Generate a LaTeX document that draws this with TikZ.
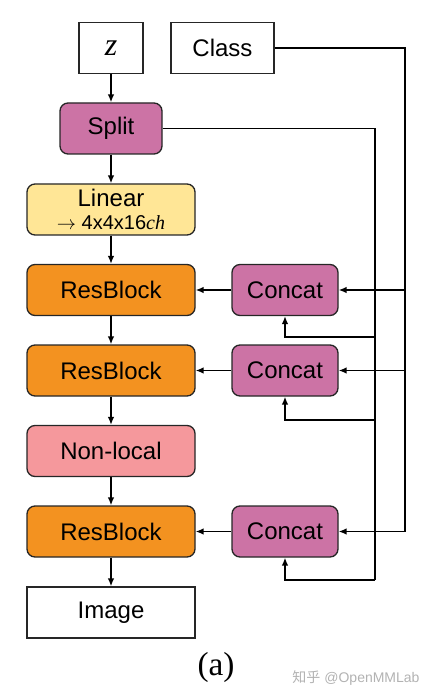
\documentclass[tikz,border=0pt]{standalone}
\usepackage{fontspec}
\setmainfont{Liberation Sans}
\newfontfamily\timesfont{Liberation Serif}
\newfontfamily\cjkfont{Noto Sans CJK SC}
\usetikzlibrary{arrows.meta}
\definecolor{splitpink}{RGB}{204,115,165}
\definecolor{linearyellow}{RGB}{255,230,150}
\definecolor{resorange}{RGB}{243,146,32}
\definecolor{nonlocalpink}{RGB}{245,152,156}
\tikzset{
	block/.style={draw=black!85, line width=1pt, inner sep=0pt, minimum height=38.25pt, font=\fontsize{18}{20}\selectfont},
	rblock/.style={block, rounded corners=6pt},
	wide/.style={minimum width=126pt},
	flow/.style={line width=1.1pt, -{Latex[length=6pt,width=5pt]}},
	bus/.style={line width=1.1pt}
}
\begin{document}
\begin{tikzpicture}[x=0.75pt, y=-0.75pt]
				\useasboundingbox (0,0) rectangle (428,698);
				% inputs
				\node[block, minimum width=48pt, font=\fontsize{24}{24}\selectfont\timesfont\itshape] (z) at (111,48) {z};
				\node[block, minimum width=77.25pt] (class) at (222.5,48) {Class};
				% generator column
				\node[rblock, fill=splitpink, minimum width=76.5pt] (split) at (111,128.5) {Split};
				\node[rblock, wide, fill=linearyellow, align=center] (linear) at (111,209.5) {Linear\\[-3pt]{\fontsize{15}{15}\selectfont$\rightarrow$ 4x4x16{\timesfont\itshape ch}}};
				\node[rblock, wide, fill=resorange] (res1) at (111,290) {ResBlock};
				\node[rblock, wide, fill=resorange] (res2) at (111,370.5) {ResBlock};
				\node[rblock, wide, fill=nonlocalpink] (nonlocal) at (111,451) {Non-local};
				\node[rblock, wide, fill=resorange] (res3) at (111,531.5) {ResBlock};
				\node[block, wide] (image) at (111,612.5) {Image};
				% concat column
				\node[rblock, fill=splitpink, minimum width=79.5pt] (concat1) at (285,290) {Concat};
				\node[rblock, fill=splitpink, minimum width=79.5pt] (concat2) at (285,370.5) {Concat};
				\node[rblock, fill=splitpink, minimum width=79.5pt] (concat3) at (285,531.5) {Concat};
				% main flow
				\draw[flow] (z) -- (split);
				\draw[flow] (split) -- (linear);
				\draw[flow] (linear) -- (res1);
				\draw[flow] (res1) -- (res2);
				\draw[flow] (res2) -- (nonlocal);
				\draw[flow] (nonlocal) -- (res3);
				\draw[flow] (res3) -- (image);
				\draw[flow] (concat1) -- (res1);
				\draw[flow] (concat2) -- (res2);
				\draw[flow] (concat3) -- (res3);
				% class bus
				\coordinate (classbus) at (405,48);
				\draw[bus] (class.east) -- (classbus) -- (classbus |- concat3.east);
				\draw[flow] (classbus |- concat1.east) -- (concat1.east);
				\draw[flow] (classbus |- concat2.east) -- (concat2.east);
				\draw[flow] (classbus |- concat3.east) -- (concat3.east);
				% split bus
				\coordinate (splitbus) at (375,128.5);
				\coordinate (tap1) at (375,337);
				\coordinate (tap2) at (375,420);
				\coordinate (tap3) at (375,580);
				\draw[bus] (split.east) -- (splitbus) -- (tap3);
				\draw[flow] (tap1) -| (concat1.south);
				\draw[flow] (tap2) -| (concat2.south);
				\draw[flow] (tap3) -| (concat3.south);
				% caption
				\node[font=\fontsize{25}{25}\selectfont\timesfont] (caption) at (216,667) {(a)};
				\node[font=\fontsize{10.5}{10.5}\selectfont, text=black!30] (mark) at (356,678) {{\cjkfont 知乎} @OpenMMLab};
\end{tikzpicture}
\end{document}
